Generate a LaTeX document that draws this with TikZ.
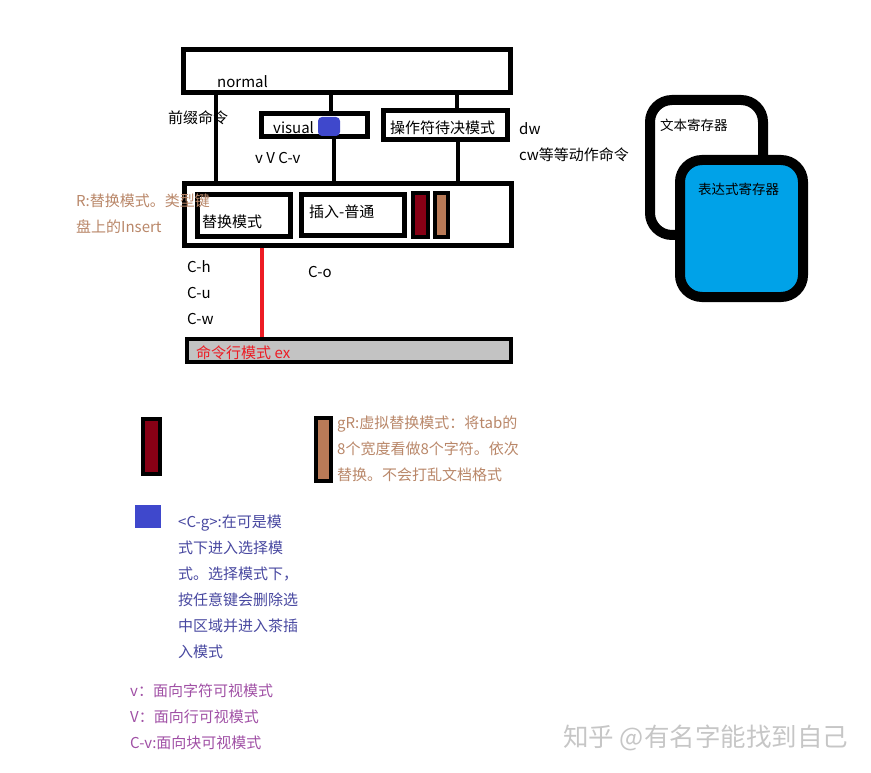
\documentclass[tikz,border=0pt]{standalone}
\usepackage{fontspec}
\setmainfont{Noto Sans CJK SC}
\definecolor{mdarkred}{RGB}{136,0,21}
\definecolor{mbrown}{RGB}{185,122,87}
\definecolor{mbrowntext}{RGB}{185,135,105}
\definecolor{mblue}{RGB}{63,72,204}
\definecolor{mbluetext}{RGB}{72,72,160}
\definecolor{mpurple}{RGB}{160,80,165}
\definecolor{mred}{RGB}{237,28,36}
\definecolor{mcyan}{RGB}{0,162,232}
\definecolor{mgray}{RGB}{195,195,195}
\tikzset{
  modebox/.style={draw, line width=5pt, inner sep=0pt},
  keybox/.style={draw, line width=4pt, inner sep=0pt},
  regbox/.style={draw, line width=10pt, rounded corners=22pt, inner sep=0pt},
  link/.style={line width=4pt},
  txt/.style={anchor=west, inner sep=0pt, font=\fontsize{15}{26}\selectfont, align=left},
}
\begin{document}
\begin{tikzpicture}[x=1pt, y=-1pt]
    \useasboundingbox (0,0) rectangle (871,773);
    % normal mode and the modes under it
    \node[modebox, minimum width=327pt, minimum height=43pt] (normal) at (347,71) {};
    \node[modebox, minimum width=106pt, minimum height=23pt] (visual) at (314.5,125) {};
    \node[modebox, minimum width=124pt, minimum height=29pt] (oppend) at (445.5,125) {};
    \node[modebox, minimum width=327pt, minimum height=62pt] (insert) at (348,214.5) {};
    \node[modebox, minimum width=93pt, minimum height=42pt] (replace) at (244,215.5) {};
    \node[modebox, minimum width=103pt, minimum height=41pt] (insnorm) at (353,215) {};
    \node[keybox, fill=mdarkred, minimum width=15pt, minimum height=44pt] (vrepa) at (420.5,215) {};
    \node[keybox, fill=mbrown, minimum width=13pt, minimum height=44pt] (vrepb) at (441.5,215) {};
    \node[keybox, fill=mgray, minimum width=324pt, minimum height=23pt] (cmdline) at (349,350.5) {};
    \node[fill=mblue, rounded corners=4pt, minimum width=22pt, minimum height=19pt, inner sep=0pt] (selbtn) at (329,126.5) {};

    % connectors
    \draw[link] (normal.south -| 216,0) -- (insert.north -| 216,0);
    \draw[link] (normal.south -| 331,0) -- (visual.north -| 331,0);
    \draw[link] (normal.south -| 457,0) -- (oppend.north -| 457,0);
    \draw[link] (visual.south -| 334,0) -- (insert.north -| 334,0);
    \draw[link] (oppend.south -| 458,0) -- (insert.north -| 458,0);
    \draw[link, mred] (insert.south -| 262,0) -- (cmdline.north -| 262,0);

    % texts in and around the boxes
    \node[txt] (tnormal) at (217,82) {normal};
    \node[txt] (tvisual) at (273,128) {visual};
    \node[txt] (toppend) at (390,128) {操作符待决模式};
    \node[txt] (treplace) at (202,222) {替换模式};
    \node[txt] (tinsnorm) at (309,212) {插入-普通};
    \node[txt, mred] (tcmdline) at (196,353) {命令行模式 ex};
    \node[txt] (tprefix) at (168,118) {前缀命令};
    \node[txt] (tvkeys) at (255,158) {v V C-v};
    \node[txt] (tdw) at (519,142) {dw\\cw等等动作命令};
    \node[txt, mbrowntext] (trep) at (76,214) {R:替换模式。类型键\\盘上的Insert};
    \node[txt] (tckeys) at (187,293) {C-h\\C-u\\C-w};
    \node[txt] (tco) at (308,272) {C-o};

    % registers
    \node[regbox, fill=white, minimum width=113pt, minimum height=135pt] (textreg) at (706.5,167.5) {};
    \node[regbox, fill=mcyan, minimum width=123pt, minimum height=137pt] (exprreg) at (741.5,228.5) {};
    \node[txt, font=\fontsize{13.5}{16}\selectfont] (ttextreg) at (660,125) {文本寄存器};
    \node[txt, font=\fontsize{13.5}{16}\selectfont] (texprreg) at (698,189) {表达式寄存器};

    % legend
    \node[keybox, fill=mdarkred, minimum width=17pt, minimum height=55pt] (legred) at (151.5,446.5) {};
    \node[keybox, fill=mbrown, minimum width=15pt, minimum height=63pt] (legbrown) at (323.5,449.5) {};
    \node[txt, mbrowntext] (tgr) at (337,449) {gR:虚拟替换模式：将tab的\\8个宽度看做8个字符。依次\\替换。不会打乱文档格式};
    \node[fill=mblue, minimum width=26pt, minimum height=23pt, inner sep=0pt] (legblue) at (148,516.5) {};
    \node[txt, mbluetext] (tcg) at (178,587) {<C-g>:在可是模\\式下进入选择模\\式。选择模式下，\\按任意键会删除选\\中区域并进入茶插\\入模式};
    \node[txt, mpurple] (tvmodes) at (130,717) {v：面向字符可视模式\\V：面向行可视模式\\C-v:面向块可视模式};

    % watermark
    \node[txt, gray!45, font=\fontsize{25.5}{28}\selectfont] (mark) at (563,738) {知乎 @有名字能找到自己};
\end{tikzpicture}
\end{document}
